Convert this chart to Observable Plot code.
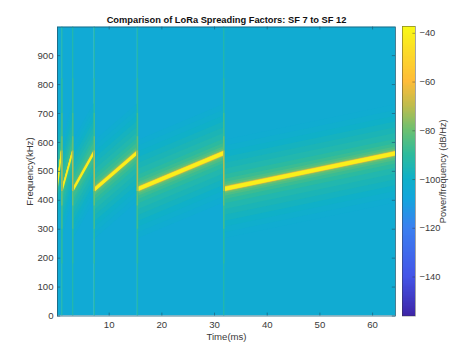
<!DOCTYPE html>
<html><head><meta charset="utf-8">
<script src="https://cdn.jsdelivr.net/npm/d3@7"></script>
<script src="https://cdn.jsdelivr.net/npm/@observablehq/plot@0.6"></script>
<style>
html,body{margin:0;padding:0;background:#fff}
#wrap{position:relative;width:474px;height:355px;overflow:hidden}
#wrap svg{position:absolute;top:0;background:transparent;font-family:"Liberation Sans",Arial,sans-serif}
</style></head><body><div id="wrap"></div>
<script>
// Chirp segments
const spreadingFactors=[7,8,9,10,11,12];
const segmentStartMs=[0,1.02,3.07,7.17,15.36,31.74];
const segmentEndMs=[1.02,3.07,7.17,15.36,31.74,64.5];
const chirpStartKHz=[425,431,432,434,436,437];
const chirpEndKHz=[578,567,565,563,561,561];
const backgroundDb=[-105,-105,-105,-105,-105,-104];
const narrowHaloScale=[.55,.55,.7,.9,1,1];
// Energy around each chirp: half-width in kHz and level in dB
const haloHalfWidthKHz=[170,150,130,110,90,70,50,35,24,16,11,8.5,7.5,6.5];
const haloDb=[-103.5,-102,-100,-98,-96,-94,-91,-88,-85,-81,-75,-66,-54,-41];
// Transients at the segment boundaries
const boundaryBandLowKHz=[0,180,300,380,430];
const boundaryBandHighKHz=[999,820,700,620,570];
const boundaryBandDb=[-94,-91,-87,-81,-72];
// Colour scale
const colorDb=[-156,-140,-120,-108,-100,-90,-80,-70,-60,-49,-37.2];
const colorHex=["#3e26a8","#4455e8","#3a80f0","#12a6dc","#0fb0c8","#2ebb9c","#6cc070","#c0bc4c","#ffbc38","#fcd82a","#f9fb15"];
// Axes
const xTicks=[10,20,30,40,50,60];
const yTicks=[0,100,200,300,400,500,600,700,800,900];
const colorbarTicks=[-40,-60,-80,-100,-120,-140];
const xDomain=[0.19,64.35];
const yDomain=[0,999];
const colorbarDomain=[-156,-37.2];
const titleText="Comparison of LoRa Spreading Factors: SF 7 to SF 12";

const ink="#3a3a3a";
const colorScale={type:"linear",domain:colorDb,range:colorHex};
const segs=spreadingFactors.map((sf,i)=>({sf,t0:segmentStartMs[i],t1:segmentEndMs[i],f0:chirpStartKHz[i],f1:chirpEndKHz[i],db:backgroundDb[i],scale:narrowHaloScale[i]}));
const layers=haloHalfWidthKHz.flatMap((w0,k)=>segs.flatMap(s=>{
  const w=w0<=24?w0*s.scale:w0;
  return [
    {z:k+"-"+s.sf,t:s.t0,lo:s.f0-w,hi:s.f0+w,db:haloDb[k]},
    {z:k+"-"+s.sf,t:s.t1,lo:s.f1-w,hi:s.f1+w,db:haloDb[k]}
  ];
}));
const boundaries=segmentEndMs.slice(0,-1).flatMap(t=>boundaryBandDb.map((db,i)=>({t,lo:boundaryBandLowKHz[i],hi:boundaryBandHighKHz[i],db})));
const corePts=segs.flatMap(s=>[{z:s.sf,t:s.t0,f:s.f0},{z:s.sf,t:s.t1,f:s.f1}]);

const main=Plot.plot({
  width:474,height:355,marginLeft:57,marginRight:79,marginTop:26.5,marginBottom:39.5,
  style:{background:"transparent",fontSize:"9.6px",color:ink},
  x:{domain:xDomain,label:null},
  y:{domain:yDomain,label:null},
  color:colorScale,
  marks:[
    Plot.rect(segs,{x1:"t0",x2:"t1",y1:yDomain[0],y2:yDomain[1],fill:"db",clip:true}),
    Plot.area(layers,{x1:"t",y1:"lo",y2:"hi",z:"z",fill:"db",clip:true}),
    Plot.line(corePts,{x:"t",y:"f",z:"z",stroke:"#f9f01a",strokeWidth:1.5,clip:true}),
    Plot.ruleX(boundaries,{x:"t",y1:"lo",y2:"hi",stroke:"db",strokeWidth:1.4,clip:true}),
    Plot.ruleX(xTicks,{x:d=>d,y1:0,y2:10,stroke:"#1d5f78",strokeWidth:.7}),
    Plot.ruleX(xTicks,{x:d=>d,y1:989,y2:999,stroke:"#1d5f78",strokeWidth:.7}),
    Plot.ruleY(yTicks,{y:d=>d,x1:xDomain[0],x2:xDomain[0]+.6,stroke:"#1d5f78",strokeWidth:.7}),
    Plot.ruleY(yTicks,{y:d=>d,x1:xDomain[1]-.6,x2:xDomain[1],stroke:"#1d5f78",strokeWidth:.7}),
    Plot.frame({stroke:"#1d5f78",strokeWidth:.8}),
    Plot.axisX(xTicks,{anchor:"bottom",tickSize:0,tickPadding:5,label:"Time(ms)",labelAnchor:"center",labelArrow:"none",labelOffset:24,fontSize:9.6,fill:ink}),
    Plot.axisY(yTicks,{anchor:"left",tickSize:0,tickPadding:4,label:"Frequency(kHz)",labelAnchor:"center",labelArrow:"none",labelOffset:31,fontSize:9.6,fill:ink}),
    Plot.text([titleText],{frameAnchor:"top",dy:-11,text:d=>d,fontWeight:"bold",fontSize:9.3,fill:"#111"})
  ]
});
const bands=d3.range(colorbarDomain[0],colorbarDomain[1],0.5);
const bar=Plot.plot({
  width:474,height:355,marginLeft:402,marginRight:59,marginTop:26,marginBottom:39.5,
  style:{background:"transparent",fontSize:"9.6px",color:ink},
  x:{domain:[0,1],axis:null},
  y:{domain:colorbarDomain,label:null},
  color:colorScale,
  marks:[
    Plot.rect(bands,{x1:0,x2:1,y1:d=>d,y2:d=>d+0.5,fill:d=>d,shapeRendering:"crispEdges"}),
    Plot.ruleY(colorbarTicks,{y:d=>d,x1:.8,x2:1,stroke:"#333",strokeOpacity:.6,strokeWidth:.7}),
    Plot.frame({stroke:"#333",strokeOpacity:.55,strokeWidth:.8}),
    Plot.axisY(colorbarTicks,{anchor:"right",tickSize:0,tickPadding:4,label:"Power/frequency (dB/Hz)",labelAnchor:"center",labelArrow:"none",labelOffset:30,fontSize:9.3,fill:ink})
  ]
});
const wrap=document.getElementById("wrap");
wrap.appendChild(main);wrap.appendChild(bar);
</script></body></html>
